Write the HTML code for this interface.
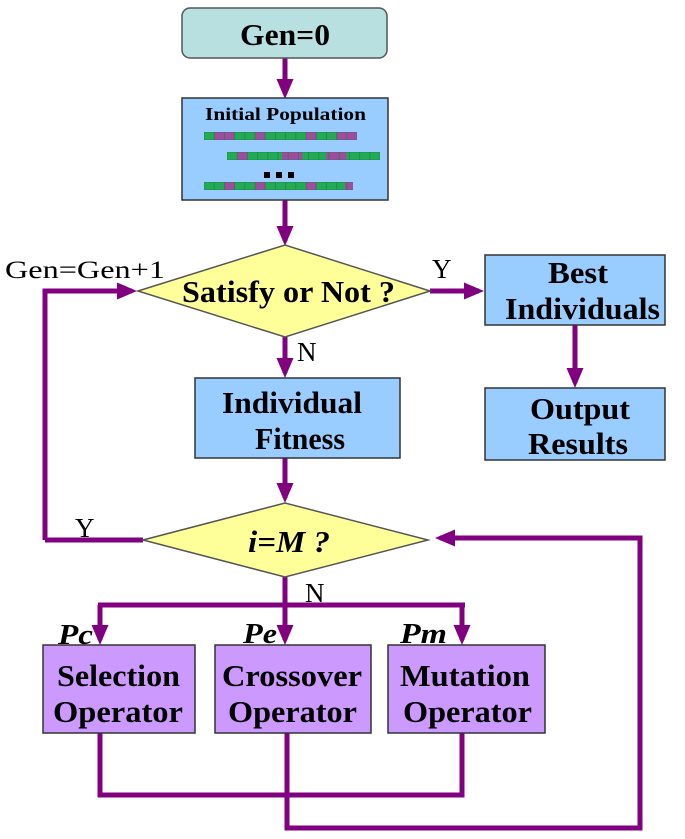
<!DOCTYPE html>
<html><head><meta charset="utf-8"><style>
body{margin:0;background:#fff}
text{font-family:"Liberation Serif",serif;font-weight:bold;}
</style></head><body>
<svg width="685" height="834" viewBox="0 0 685 834" xmlns="http://www.w3.org/2000/svg">
<defs>
<marker id="a" markerWidth="4" markerHeight="3.4" refX="3" refY="1.7" orient="auto" markerUnits="strokeWidth"><path d="M0,0 L4,1.7 L0,3.4 z" fill="#800080"/></marker>
<pattern id="cells" width="10.2" height="8" patternUnits="userSpaceOnUse"><rect width="10.2" height="8" fill="none" stroke="#1a7a44" stroke-width="0.6"/></pattern>
</defs>
<g fill="none" stroke="#800080" stroke-width="5">
<line x1="285" y1="58" x2="285" y2="94" marker-end="url(#a)"/>
<line x1="285" y1="200" x2="285" y2="241" marker-end="url(#a)"/>
<polyline points="45,540 45,291 132,291" marker-end="url(#a)"/>
<line x1="45" y1="540" x2="143" y2="540"/>
<line x1="430" y1="291" x2="479" y2="291" marker-end="url(#a)"/>
<line x1="575" y1="325" x2="575" y2="383" marker-end="url(#a)"/>
<line x1="285" y1="337" x2="285" y2="373" marker-end="url(#a)"/>
<line x1="285" y1="458" x2="285" y2="498" marker-end="url(#a)"/>
<polyline points="287,733 287,828 640,828 640,538 440,538" marker-end="url(#a)"/>
<line x1="285" y1="577" x2="285" y2="605"/>
<line x1="98" y1="605" x2="465" y2="605"/>
<line x1="100" y1="605" x2="100" y2="640" marker-end="url(#a)"/>
<line x1="285" y1="605" x2="285" y2="640" marker-end="url(#a)"/>
<line x1="462" y1="605" x2="462" y2="640" marker-end="url(#a)"/>
<polyline points="100,733 100,795 462,795 462,733"/>
</g>
<rect x="182" y="8" width="205" height="50" rx="8" fill="#b8e0e0" stroke="#555" stroke-width="1.5"/>
<text x="240" y="45" font-size="31" textLength="90" lengthAdjust="spacingAndGlyphs">Gen=0</text>
<rect x="182" y="98" width="206" height="102" fill="#99ccff" stroke="#333" stroke-width="1.5"/>
<text x="205" y="120" font-size="18" textLength="161" lengthAdjust="spacingAndGlyphs">Initial Population</text>
<g transform="translate(204,132)">
<rect width="153" height="8" fill="#22aa55"/>
<rect x="10.2" width="20.4" height="8" fill="#a04aa0"/><rect x="51" width="10.2" height="8" fill="#a04aa0"/><rect x="102" width="10.2" height="8" fill="#a04aa0"/><rect x="132.6" width="20.4" height="8" fill="#a04aa0"/>
<rect width="153" height="8" fill="url(#cells)"/>
</g>
<g transform="translate(227,152)">
<rect width="153" height="8" fill="#22aa55"/>
<rect x="10.2" width="10.2" height="8" fill="#a04aa0"/><rect x="55" width="20.4" height="8" fill="#a04aa0"/><rect x="99" width="20.4" height="8" fill="#a04aa0"/>
<rect width="153" height="8" fill="url(#cells)"/>
</g>
<g transform="translate(204,182)">
<rect width="149" height="8" fill="#22aa55"/>
<rect x="20.4" width="10.2" height="8" fill="#a04aa0"/><rect x="51" width="10.2" height="8" fill="#a04aa0"/><rect x="102" width="10.2" height="8" fill="#a04aa0"/><rect x="141" width="8" height="8" fill="#a04aa0"/>
<rect width="149" height="8" fill="url(#cells)"/>
</g>
<rect x="264" y="172" width="6" height="6" fill="#000"/><rect x="276" y="172" width="6" height="6" fill="#000"/><rect x="288" y="172" width="6" height="6" fill="#000"/>
<polygon points="138,291 285,245 430,291 285,337" fill="#ffff99" stroke="#555" stroke-width="1.5"/>
<text x="182" y="302" font-size="31" textLength="213" lengthAdjust="spacingAndGlyphs">Satisfy or Not ?</text>
<text x="5" y="278" font-size="25" textLength="160" lengthAdjust="spacingAndGlyphs" style="font-weight:normal">Gen=Gen+1</text>
<text x="432" y="278" font-size="27" style="font-weight:normal">Y</text>
<text x="297" y="361" font-size="27" style="font-weight:normal">N</text>
<rect x="485" y="255" width="180" height="70" fill="#99ccff" stroke="#333" stroke-width="1.5"/>
<text x="548" y="283" font-size="31" textLength="60" lengthAdjust="spacingAndGlyphs">Best</text>
<text x="505" y="319" font-size="31" textLength="155" lengthAdjust="spacingAndGlyphs">Individuals</text>
<rect x="485" y="388" width="180" height="72" fill="#99ccff" stroke="#333" stroke-width="1.5"/>
<text x="530" y="419" font-size="31" textLength="100" lengthAdjust="spacingAndGlyphs">Output</text>
<text x="528" y="454" font-size="31" textLength="100" lengthAdjust="spacingAndGlyphs">Results</text>
<rect x="195" y="378" width="205" height="80" fill="#99ccff" stroke="#333" stroke-width="1.5"/>
<text x="222" y="413" font-size="31" textLength="140" lengthAdjust="spacingAndGlyphs">Individual</text>
<text x="255" y="449" font-size="31" textLength="90" lengthAdjust="spacingAndGlyphs">Fitness</text>
<polygon points="143,540 285,503 428,540 285,577" fill="#ffff99" stroke="#555" stroke-width="1.5"/>
<text x="248" y="552" font-size="31" font-style="italic" textLength="82" lengthAdjust="spacingAndGlyphs">i=M ?</text>
<text x="75" y="537" font-size="27" style="font-weight:normal">Y</text>
<text x="305" y="602" font-size="27" style="font-weight:normal">N</text>
<text x="58" y="644" font-size="28" font-style="italic" textLength="35" lengthAdjust="spacingAndGlyphs">Pc</text>
<text x="243" y="643" font-size="28" font-style="italic" textLength="34" lengthAdjust="spacingAndGlyphs">Pe</text>
<text x="400" y="643" font-size="28" font-style="italic" textLength="47" lengthAdjust="spacingAndGlyphs">Pm</text>
<rect x="43" y="645" width="152" height="88" fill="#cc99ff" stroke="#333" stroke-width="1.5"/>
<text x="57" y="686" font-size="31" textLength="123" lengthAdjust="spacingAndGlyphs">Selection</text>
<text x="53" y="722" font-size="31" textLength="130" lengthAdjust="spacingAndGlyphs">Operator</text>
<rect x="215" y="645" width="156" height="88" fill="#cc99ff" stroke="#333" stroke-width="1.5"/>
<text x="222" y="686" font-size="31" textLength="140" lengthAdjust="spacingAndGlyphs">Crossover</text>
<text x="228" y="722" font-size="31" textLength="129" lengthAdjust="spacingAndGlyphs">Operator</text>
<rect x="388" y="645" width="157" height="88" fill="#cc99ff" stroke="#333" stroke-width="1.5"/>
<text x="400" y="686" font-size="31" textLength="130" lengthAdjust="spacingAndGlyphs">Mutation</text>
<text x="403" y="722" font-size="31" textLength="129" lengthAdjust="spacingAndGlyphs">Operator</text>
</svg>
</body></html>
